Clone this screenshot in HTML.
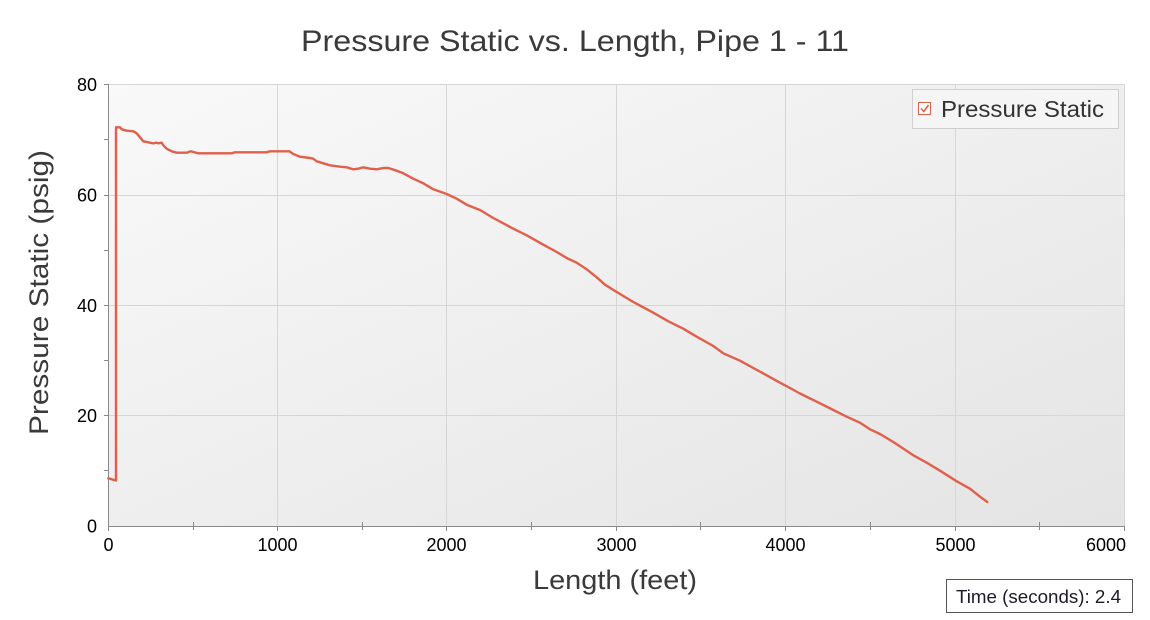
<!DOCTYPE html>
<html>
<head>
<meta charset="utf-8">
<style>
  html, body { margin: 0; padding: 0; background: #ffffff; }
  body { width: 1150px; height: 620px; overflow: hidden; }
  svg { display: block; font-family: "Liberation Sans", "DejaVu Sans", sans-serif; }
</style>
</head>
<body>
<svg width="1150" height="620" viewBox="0 0 1150 620" xmlns="http://www.w3.org/2000/svg">
  <defs>
    <linearGradient id="bg" x1="0" y1="0" x2="1" y2="1">
      <stop offset="0" stop-color="#f9f9f9"/>
      <stop offset="1" stop-color="#e4e4e4"/>
    </linearGradient>
  </defs>
  <rect x="0" y="0" width="1150" height="620" fill="#ffffff"/>

  <!-- Title -->
  <text x="301" y="51" font-size="30" fill="#3a3a3a" textLength="548" lengthAdjust="spacingAndGlyphs">Pressure Static vs. Length, Pipe 1 - 11</text>

  <!-- Plot background -->
  <rect x="108.5" y="84.5" width="1016" height="441.5" fill="url(#bg)"/>

  <!-- Grid lines -->
  <g stroke="#d6d6d6" stroke-width="1">
    <line x1="277.5" y1="84.5" x2="277.5" y2="526"/>
    <line x1="446.5" y1="84.5" x2="446.5" y2="526"/>
    <line x1="616.5" y1="84.5" x2="616.5" y2="526"/>
    <line x1="785.5" y1="84.5" x2="785.5" y2="526"/>
    <line x1="955.5" y1="84.5" x2="955.5" y2="526"/>
    <line x1="1124.5" y1="84.5" x2="1124.5" y2="526"/>
    <line x1="108.5" y1="84.5" x2="1124.5" y2="84.5"/>
    <line x1="108.5" y1="195.5" x2="1124.5" y2="195.5"/>
    <line x1="108.5" y1="305.5" x2="1124.5" y2="305.5"/>
    <line x1="108.5" y1="415.5" x2="1124.5" y2="415.5"/>
  </g>

  <!-- Axes -->
  <g stroke="#8a8a8a" stroke-width="1">
    <line x1="108.5" y1="84" x2="108.5" y2="526.5"/>
    <line x1="108" y1="526.5" x2="1125" y2="526.5"/>
    <!-- y ticks -->
    <line x1="104" y1="84.5" x2="108.5" y2="84.5"/>
    <line x1="104" y1="139.5" x2="108.5" y2="139.5"/>
    <line x1="104" y1="195.5" x2="108.5" y2="195.5"/>
    <line x1="104" y1="250.5" x2="108.5" y2="250.5"/>
    <line x1="104" y1="305.5" x2="108.5" y2="305.5"/>
    <line x1="104" y1="360.5" x2="108.5" y2="360.5"/>
    <line x1="104" y1="415.5" x2="108.5" y2="415.5"/>
    <line x1="104" y1="470.5" x2="108.5" y2="470.5"/>
    <!-- x ticks -->
    <line x1="108.5" y1="526" x2="108.5" y2="531"/>
    <line x1="193.5" y1="522" x2="193.5" y2="530"/>
    <line x1="277.5" y1="526" x2="277.5" y2="531"/>
    <line x1="362.5" y1="522" x2="362.5" y2="530"/>
    <line x1="446.5" y1="526" x2="446.5" y2="531"/>
    <line x1="531.5" y1="522" x2="531.5" y2="530"/>
    <line x1="616.5" y1="526" x2="616.5" y2="531"/>
    <line x1="700.5" y1="522" x2="700.5" y2="530"/>
    <line x1="785.5" y1="526" x2="785.5" y2="531"/>
    <line x1="870.5" y1="522" x2="870.5" y2="530"/>
    <line x1="955.5" y1="526" x2="955.5" y2="531"/>
    <line x1="1039.5" y1="522" x2="1039.5" y2="530"/>
    <line x1="1124.5" y1="526" x2="1124.5" y2="531"/>
  </g>

  <!-- Y tick labels -->
  <g font-size="18" fill="#000" text-anchor="end">
    <text x="97" y="91">80</text>
    <text x="97" y="201.5">60</text>
    <text x="97" y="312">40</text>
    <text x="97" y="422">20</text>
    <text x="97" y="532.5">0</text>
  </g>

  <!-- X tick labels -->
  <g font-size="18" fill="#000" text-anchor="middle">
    <text x="108.5" y="551">0</text>
    <text x="277.5" y="551">1000</text>
    <text x="446.5" y="551">2000</text>
    <text x="616.5" y="551">3000</text>
    <text x="785.5" y="551">4000</text>
    <text x="955.5" y="551">5000</text>
    <text x="1106" y="551">6000</text>
  </g>

  <!-- Axis labels -->
  <text x="533" y="589" font-size="27" fill="#3a3a3a" textLength="164" lengthAdjust="spacingAndGlyphs">Length (feet)</text>
  <text transform="translate(48,435) rotate(-90)" x="0" y="0" font-size="27" fill="#3a3a3a" textLength="285" lengthAdjust="spacingAndGlyphs">Pressure Static (psig)</text>

  <!-- Data series -->
  <polyline fill="none" stroke="#e0604b" stroke-width="2.4" stroke-linejoin="round" stroke-linecap="round"
    points="108.3,478.3 116,480.5 116,127.3 120,127.3 121.7,129.3 126.7,130.7 133.3,131.3 136.7,133.3 140,137.3 143.3,141.3 150,142.7 153.3,143.3 156.7,142.7 158.3,143.3 161.7,142.7 163.3,145.3 166.7,148.7 171.7,151.3 176.7,152.7 186.7,152.7 190.7,151.3 193.3,152 198.3,153.3 231.7,153.3 235,152.3 266.7,152.3 270,151.3 289.3,151.3 293.3,154 300,156.7 310,158 313.3,158.7 316.7,161.3 323.3,163.3 330,165.3 340,166.7 346.7,167.3 353.3,169.3 358.3,168.7 363.3,167.3 370,168.7 376.7,169.3 383.3,168 388.3,168 396.7,170.7 403.3,173.3 413.3,178.7 423.3,183.3 433.3,189.3 446.7,194 456.7,198.7 466.7,204.7 480,210 493.3,218 513.3,228.7 526.7,235.3 543.3,244.7 556.7,252 566.7,258 576.7,262.7 586.7,269.3 596.7,277.3 605,284.7 616.7,292 633.3,302 653.3,312.7 668.3,321.3 683.3,328.7 696.7,336.7 713.3,346 723.3,353.3 740,360.7 753.3,368 766.7,375.3 780,382.7 790,388 800,393.5 820,403.3 833.3,410 846.7,416.7 860,422.7 870,429.3 880,434 893.3,442 913.3,455.3 926.7,462.7 940,470.7 956.7,481.3 970,488.7 980,496.7 987.3,502"/>

  <!-- Legend -->
  <rect x="912.5" y="89.5" width="206" height="39" fill="#f5f5f5" stroke="#cfcfcf" stroke-width="1"/>
  <rect x="918.5" y="102.5" width="12" height="12" fill="#ffffff" stroke="#e0604b" stroke-width="1"/>
  <polyline points="921,108.5 923.8,111.5 928.5,105" fill="none" stroke="#e0604b" stroke-width="1.6"/>
  <text x="941" y="117" font-size="23" fill="#333" textLength="163" lengthAdjust="spacingAndGlyphs">Pressure Static</text>

  <!-- Time box -->
  <rect x="946.5" y="579.5" width="186" height="33" fill="#ffffff" stroke="#555" stroke-width="1"/>
  <text x="956" y="603" font-size="18" fill="#1a1a2a" textLength="165" lengthAdjust="spacingAndGlyphs">Time (seconds): 2.4</text>
</svg>
</body>
</html>
